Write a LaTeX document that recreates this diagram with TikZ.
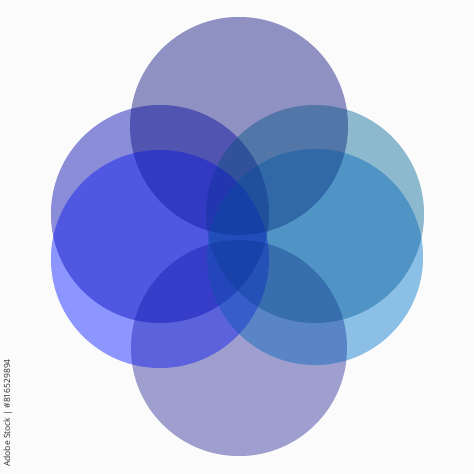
\documentclass[tikz,border=0pt]{standalone}
\usepackage{fontspec}
\setmainfont{Open Sans}
\definecolor{bgc}{RGB}{251,251,251}
% colours of single regions (for multiply)
\definecolor{ctop}{RGB}{144,146,196}
\definecolor{cbot}{RGB}{160,160,208}
\definecolor{cl1}{RGB}{140,142,218}
\definecolor{cl2}{RGB}{142,150,255}
\definecolor{cr1}{RGB}{142,186,208}
\definecolor{cr2}{RGB}{140,192,230}
% base colours for half-opacity painting
\definecolor{atop}{RGB}{37,41,141}
\definecolor{abot}{RGB}{69,69,165}
\definecolor{al1}{RGB}{29,33,185}
\definecolor{al2}{RGB}{33,49,255}
\definecolor{ar1}{RGB}{33,121,165}
\definecolor{ar2}{RGB}{29,133,209}
\definecolor{txtc}{RGB}{45,45,45}
\tikzset{
  disc/.style={fill=#1, draw=none},
  halfdisc/.style={fill=#1, fill opacity=0.5, draw=none}
}
\begin{document}
\begin{tikzpicture}[x=1pt,y=-1pt]
\fill[bgc] (0,0) rectangle (474,474);
\useasboundingbox (0,0) rectangle (474,474);
% layer 1: ordinary half-transparent discs
\fill[halfdisc=atop] (239,126) circle[radius=109];
\fill[halfdisc=abot] (239,348) circle[radius=108];
\fill[halfdisc=al1] (160,214) circle[radius=109];
\fill[halfdisc=ar1] (315,214) circle[radius=109];
\fill[halfdisc=al2] (160,259) circle[radius=109];
\fill[halfdisc=ar2] (315,257) circle[radius=108];
% layer 2: multiplied discs, laid over at half strength
\begin{scope}[transparency group, opacity=0.5]
\begin{scope}[blend mode=multiply]
\fill[disc=ctop] (239,126) circle[radius=109];
\fill[disc=cbot] (239,348) circle[radius=108];
\fill[disc=cl1] (160,214) circle[radius=109];
\fill[disc=cr1] (315,214) circle[radius=109];
\fill[disc=cl2] (160,259) circle[radius=109];
\fill[disc=cr2] (315,257) circle[radius=108];
\end{scope}
\end{scope}
\node[rotate=90, text=txtc, font=\fontsize{8.5}{10}\selectfont, inner sep=0pt] (lbl) at (8,413) {Adobe Stock | \#816529894};
\end{tikzpicture}
\end{document}
